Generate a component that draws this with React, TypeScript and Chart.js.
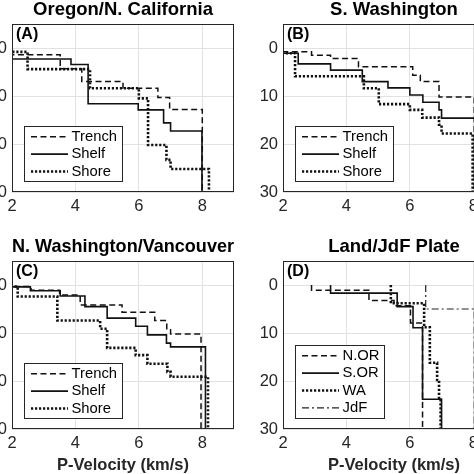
import React, { useEffect, useRef } from "react";
import { Chart, registerables, Plugin } from "chart.js";

Chart.register(...registerables);

const FONT = '"Liberation Sans", Arial, Helvetica, sans-serif';
Chart.defaults.font.family = FONT;

// axes
const X_MIN = 2;
const X_MAX = 9;
const Y_MIN = -5;
const Y_MAX = 30;
const X_TICKS = [2, 4, 6, 8];
const Y_TICKS = [0, 10, 20, 30];
const X_LABEL = "P-Velocity (km/s)";

// velocity profiles: depth of each layer top (km) and its P-velocity (km/s)
// 1.5 km/s = water column (left of the axis)
const OR_TRENCH_DEPTH = [0, 1.4, 4.3, 7.0, 8.4, 10.3, 12.8];
const OR_TRENCH_VEL = [1.5, 3.52, 4.2, 5.5, 6.6, 6.97, 8.0];
const OR_SHELF_DEPTH = [0, 2.3, 3.45, 11.6, 12.9, 15.6, 17.3];
const OR_SHELF_VEL = [1.5, 3.86, 4.4, 5.98, 6.78, 7.0, 7.99];
const OR_SHORE_DEPTH = [0, 0.8, 4.4, 8.4, 10.5, 20.2, 23.3, 25.2];
const OR_SHORE_VEL = [1.5, 2.49, 4.46, 6.0, 6.29, 6.87, 7.0, 8.21];

const SWA_TRENCH_DEPTH = [0, 0.8, 1.5, 2.2, 3.9, 5.7, 7.0, 10.2];
const SWA_TRENCH_VEL = [1.5, 2.9, 3.5, 4.38, 6.09, 6.33, 6.92, 8.03];
const SWA_SHELF_DEPTH = [0, 1.1, 3.3, 4.6, 7.0, 8.3, 9.8, 11.3, 12.9, 14.6];
const SWA_SHELF_VEL = [1.5, 2.48, 3.5, 4.5, 5.31, 6.0, 6.41, 6.92, 7.0, 8.1];
const SWA_SHORE_DEPTH = [0, 1.1, 5.9, 8.4, 11.7, 12.9, 14.5, 16.0, 17.8];
const SWA_SHORE_VEL = [1.5, 2.38, 4.55, 5.02, 6.0, 6.39, 6.92, 7.0, 7.98];

const NWA_TRENCH_DEPTH = [0, 0.3, 1.1, 2.1, 4.15, 5.7, 7.4, 9.3, 10.2];
const NWA_TRENCH_VEL = [1.5, 2.6, 3.5, 4.15, 5.47, 6.5, 6.88, 7.0, 7.96];
const NWA_SHELF_DEPTH = [0, 0.4, 1.2, 2.3, 4.5, 6.9, 8.6, 10.4, 12.1, 12.9];
const NWA_SHELF_VEL = [1.5, 2.58, 3.52, 4.3, 5.0, 5.9, 6.27, 6.87, 7.0, 8.1];
const NWA_SHORE_DEPTH = [0, 0.3, 2.4, 7.4, 9.1, 13.1, 14.6, 16.4, 18.1, 19.1];
const NWA_SHORE_VEL = [1.5, 2.18, 3.43, 4.78, 5.0, 5.9, 6.27, 6.9, 7.0, 8.18];

const NOR_DEPTH = [0, 1.1, 3.25, 4.3, 7.9];
const NOR_VEL = [2.9, 4.71, 5.5, 6.02, 6.4];
const SOR_DEPTH = [0, 1.7, 4.5, 8.9, 23.8];
const SOR_VEL = [3.5, 5.6, 6.1, 6.4, 7.0];
const WA_DEPTH = [0, 3.8, 8.8, 16.2, 19.8, 23.9];
const WA_VEL = [5.4, 6.45, 6.63, 6.86, 6.92, 6.97];
const JDF_DEPTH = [0, 5.0];
const JDF_VEL = [6.5, 8.03];

const LINE_STYLES: Record<string, { dash: number[]; width: number; color: string }> = {
  Trench: { dash: [6, 3.5], width: 1.5, color: "#111" },
  Shelf: { dash: [], width: 1.6, color: "#111" },
  Shore: { dash: [2.2, 1.8], width: 2.6, color: "#111" },
  "N.OR": { dash: [6, 3.5], width: 1.5, color: "#111" },
  "S.OR": { dash: [], width: 1.6, color: "#111" },
  WA: { dash: [2.2, 1.8], width: 2.6, color: "#111" },
  JdF: { dash: [7, 3, 2, 3], width: 1.2, color: "#222" },
};

interface Series {
  label: string;
  depth: number[];
  vel: number[];
}

interface PanelConfig {
  id: string;
  title: string;
  letter: string;
  plotLeft: number;
  plotTop: number;
  xLabel: boolean;
  series: Series[];
}

const PLOT_W = 222;
const PLOT_H = 168;
const Y_AXIS_W = 50;
const TITLE_H = 25;
const RIGHT_PAD = 2;

const PANELS: PanelConfig[] = [
  {
    id: "a", title: "Oregon/N. California", letter: "(A)", plotLeft: 12, plotTop: 24, xLabel: false,
    series: [
      { label: "Trench", depth: OR_TRENCH_DEPTH, vel: OR_TRENCH_VEL },
      { label: "Shelf", depth: OR_SHELF_DEPTH, vel: OR_SHELF_VEL },
      { label: "Shore", depth: OR_SHORE_DEPTH, vel: OR_SHORE_VEL },
    ],
  },
  {
    id: "b", title: "S. Washington", letter: "(B)", plotLeft: 283, plotTop: 24, xLabel: false,
    series: [
      { label: "Trench", depth: SWA_TRENCH_DEPTH, vel: SWA_TRENCH_VEL },
      { label: "Shelf", depth: SWA_SHELF_DEPTH, vel: SWA_SHELF_VEL },
      { label: "Shore", depth: SWA_SHORE_DEPTH, vel: SWA_SHORE_VEL },
    ],
  },
  {
    id: "c", title: "N. Washington/Vancouver", letter: "(C)", plotLeft: 12, plotTop: 261, xLabel: true,
    series: [
      { label: "Trench", depth: NWA_TRENCH_DEPTH, vel: NWA_TRENCH_VEL },
      { label: "Shelf", depth: NWA_SHELF_DEPTH, vel: NWA_SHELF_VEL },
      { label: "Shore", depth: NWA_SHORE_DEPTH, vel: NWA_SHORE_VEL },
    ],
  },
  {
    id: "d", title: "Land/JdF Plate", letter: "(D)", plotLeft: 283, plotTop: 261, xLabel: true,
    series: [
      { label: "N.OR", depth: NOR_DEPTH, vel: NOR_VEL },
      { label: "S.OR", depth: SOR_DEPTH, vel: SOR_VEL },
      { label: "WA", depth: WA_DEPTH, vel: WA_VEL },
      { label: "JdF", depth: JDF_DEPTH, vel: JDF_VEL },
    ],
  },
];

function stepPoints(depth: number[], vel: number[]) {
  const pts = depth.map((d, i) => ({ x: vel[i], y: d }));
  pts.push({ x: vel[vel.length - 1], y: Y_MAX });
  return pts;
}

// axes box, panel letter and a boxed legend inside the plot (MATLAB look)
const boxPlugin: Plugin = {
  id: "matlabBox",
  afterDatasetsDraw(chart, _args, opts: any) {
    const { ctx, chartArea: a } = chart;
    ctx.save();
    ctx.strokeStyle = "#262626";
    ctx.lineWidth = 1;
    ctx.strokeRect(a.left + 0.5, a.top + 0.5, a.width - 1, a.height - 1);

    ctx.fillStyle = "#000";
    ctx.font = `bold 16px ${FONT}`;
    ctx.textAlign = "left";
    ctx.textBaseline = "middle";
    ctx.fillText(opts.letter, a.left + 4, a.top + 11);

    const sets = chart.data.datasets as any[];
    ctx.font = `14.8px ${FONT}`;
    const rowH = 17.4;
    const textW = Math.max(...sets.map((s) => ctx.measureText(s.label).width));
    const w = Math.round(6.5 + 37 + 3.5 + textW + 5);
    const h = Math.round(sets.length * rowH + 3);
    const x0 = Math.round(a.left + 11.5) + 0.5;
    const y0 = Math.round(a.bottom - 11.5 - h) + 0.5;
    ctx.fillStyle = "#fff";
    ctx.fillRect(x0, y0, w, h);
    ctx.strokeStyle = "#262626";
    ctx.lineWidth = 1;
    ctx.strokeRect(x0, y0, w, h);
    sets.forEach((s, i) => {
      const y = y0 + 1.5 + rowH * (i + 0.5);
      ctx.setLineDash(s.borderDash || []);
      ctx.lineWidth = s.borderWidth;
      ctx.strokeStyle = s.borderColor;
      ctx.beginPath();
      ctx.moveTo(x0 + 6.5, y);
      ctx.lineTo(x0 + 43.5, y);
      ctx.stroke();
      ctx.setLineDash([]);
      ctx.fillStyle = "#000";
      ctx.fillText(s.label, x0 + 47, y);
    });
    ctx.restore();
  },
};

const Panel: React.FC<{ cfg: PanelConfig }> = ({ cfg }) => {
  const canvasRef = useRef<HTMLCanvasElement>(null);
  const xAxisH = cfg.xLabel ? 46 : 30;

  useEffect(() => {
    if (!canvasRef.current) return;
    const chart = new Chart(canvasRef.current, {
      type: "scatter",
      data: {
        datasets: cfg.series.map((s) => {
          const st = LINE_STYLES[s.label];
          return {
            label: s.label,
            data: stepPoints(s.depth, s.vel),
            showLine: true,
            stepped: "after" as const,
            borderColor: st.color,
            borderWidth: st.width,
            borderDash: st.dash,
            pointRadius: 0,
            fill: false,
          };
        }),
      },
      options: {
        responsive: true,
        maintainAspectRatio: false,
        animation: false,
        events: [],
        layout: { padding: { left: 0, right: RIGHT_PAD, top: 0, bottom: 0 } },
        plugins: {
          legend: { display: false },
          tooltip: { enabled: false },
          title: {
            display: true,
            text: cfg.title,
            fullSize: false,
            color: "#000",
            font: { size: 18.5, weight: "bold" },
            padding: { top: 0, bottom: TITLE_H - 18.5 * 1.2 },
          },
          matlabBox: { letter: cfg.letter },
        } as any,
        scales: {
          x: {
            type: "linear",
            min: X_MIN,
            max: X_MAX,
            afterBuildTicks: (scale) => {
              scale.ticks = X_TICKS.map((value) => ({ value }));
            },
            afterFit: (scale) => {
              scale.height = xAxisH;
            },
            grid: { color: "#e2e2e2", drawTicks: false },
            border: { display: false },
            ticks: { color: "#262626", font: { size: 16.5 }, padding: 4.5, maxRotation: 0 },
            title: {
              display: cfg.xLabel,
              text: X_LABEL,
              color: "#262626",
              font: { size: 16.5, weight: "bold" },
              padding: 0,
            },
          },
          y: {
            type: "linear",
            min: Y_MIN,
            max: Y_MAX,
            reverse: true,
            afterBuildTicks: (scale) => {
              scale.ticks = Y_TICKS.map((value) => ({ value }));
            },
            afterFit: (scale) => {
              scale.width = Y_AXIS_W;
            },
            grid: { color: "#e2e2e2", drawTicks: false },
            border: { display: false },
            ticks: { color: "#262626", font: { size: 16.5 }, padding: 5 },
          },
        },
      },
      plugins: [boxPlugin],
    });
    return () => chart.destroy();
  }, [cfg]);

  return (
    <div
      style={{
        position: "absolute",
        left: cfg.plotLeft - Y_AXIS_W,
        top: cfg.plotTop - TITLE_H,
        width: Y_AXIS_W + PLOT_W + RIGHT_PAD,
        height: TITLE_H + PLOT_H + xAxisH,
      }}
    >
      <canvas ref={canvasRef} />
    </div>
  );
};

const App: React.FC = () => (
  <div
    style={{
      position: "fixed",
      left: 0,
      top: 0,
      width: 474,
      height: 474,
      overflow: "hidden",
      background: "#fff",
    }}
  >
    {PANELS.map((cfg) => (
      <Panel key={cfg.id} cfg={cfg} />
    ))}
  </div>
);

export default App;
